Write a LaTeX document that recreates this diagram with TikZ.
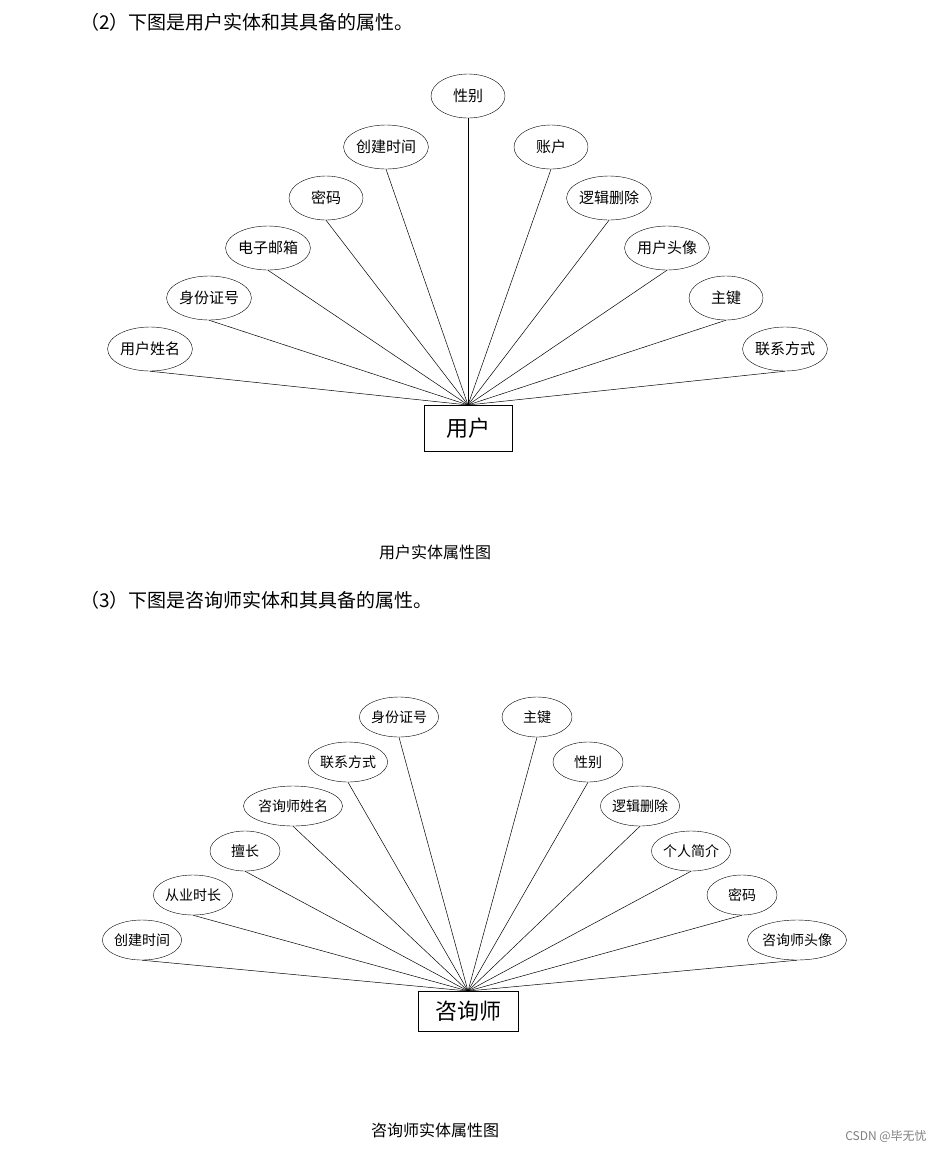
\documentclass[tikz,border=0pt]{standalone}
\usepackage{fontspec}
\setmainfont{Noto Sans CJK SC}
\usetikzlibrary{shapes.geometric}
\begin{document}
\begin{tikzpicture}[x=1pt,y=-1pt,
 attr/.style={draw,ellipse,minimum width=74pt,minimum height=44pt,inner sep=0pt,font=\fontsize{15}{15}\selectfont},
 attrb/.style={draw,ellipse,minimum width=70pt,minimum height=40pt,inner sep=0pt,font=\fontsize{14}{14}\selectfont},
 ent/.style={draw,rectangle,inner sep=0pt,font=\fontsize{22}{22}\selectfont},
 lnk/.style={draw,line width=0.5pt},
 txt/.style={font=\fontsize{19}{19}\selectfont,anchor=west,inner sep=0pt}]
\useasboundingbox[fill=white] (0,0) rectangle (951,1152);
\node[txt] (h1) at (80,22) {（2）下图是用户实体和其具备的属性。};
\node[ent,minimum width=88pt,minimum height=46pt] (u) at (468,428) {用户};
\coordinate (ut) at (468,405);
\foreach \n/\x/\y/\t in {a1/468/96/性别,a2/386/147/创建时间,a3/551/147/账户,a4/326/198/密码,a5/609/198/逻辑删除,a6/268/248/电子邮箱,a7/667/248/用户头像,a8/209/298/身份证号,a9/726/298/主键,a10/150/349/用户姓名,a11/785/349/联系方式}{
 \node[attr] (\n) at (\x,\y) {\t};
 \draw[lnk] (\n.south) -- (ut);
}
\node[font=\fontsize{16}{16}\selectfont] (c1) at (435,552) {用户实体属性图};
\node[txt] (h2) at (80,600) {（3）下图是咨询师实体和其具备的属性。};
\node[ent,minimum width=100pt,minimum height=40pt] (z) at (468,1011) {咨询师};
\coordinate (zt) at (468,991);
\foreach \n/\x/\y/\t in {b1/399/717/身份证号,b2/537/717/主键,b3/348/762/联系方式,b4/588/762/性别,b5/293/806/咨询师姓名,b6/640/806/逻辑删除,b7/245/851/擅长,b8/691/851/个人简介,b9/193/895/从业时长,b10/742/895/密码,b11/142/940/创建时间,b12/797/940/咨询师头像}{
 \node[attrb] (\n) at (\x,\y) {\t};
 \draw[lnk] (\n.south) -- (zt);
}
\node[font=\fontsize{16}{16}\selectfont] (c2) at (435,1130) {咨询师实体属性图};
\node[font=\fontsize{12}{12}\selectfont,text=gray] (w) at (886,1136) {CSDN @毕无忧};
\end{tikzpicture}
\end{document}
